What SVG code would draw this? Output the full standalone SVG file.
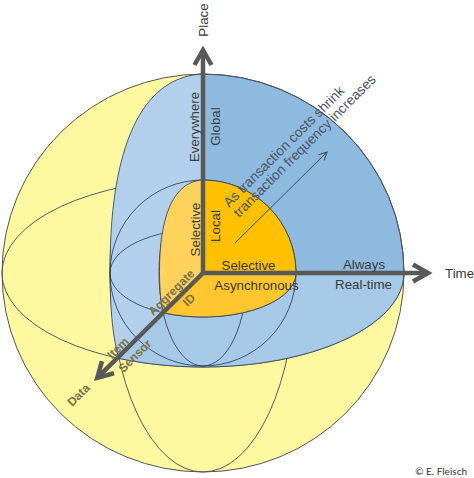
<svg xmlns="http://www.w3.org/2000/svg" width="474" height="478" viewBox="0 0 474 478">
<defs>
<style>
.wire{fill:none;stroke:#26344f;stroke-width:0.8}
.face{stroke:#2b3a55;stroke-width:0.8}
.axis{fill:none;stroke:#595959;stroke-width:4.5;marker-end:url(#chev)}
.lbl{font-family:"Liberation Sans",Arial,sans-serif;font-size:13.3px;fill:#3a3a3a}
.dlbl{font-family:"Liberation Sans",Arial,sans-serif;font-size:12px;font-weight:bold;fill:#78724c}
.diag{font-family:"Liberation Sans",Arial,sans-serif;font-size:13.8px;fill:#4b5663}
</style>
<marker id="chev" markerUnits="userSpaceOnUse" viewBox="-20 -12 24 24" markerWidth="24" markerHeight="24" refX="0" refY="0" orient="auto" overflow="visible">
<path d="M-15,-8.5 L0,0 L-15,8.5" fill="none" stroke="#595959" stroke-width="4.5"/>
</marker>
<marker id="thin" markerUnits="userSpaceOnUse" viewBox="-10 -6 12 12" markerWidth="12" markerHeight="12" refX="0" refY="0" orient="auto" overflow="visible">
<path d="M-8,-4 L0,0 L-8,4" fill="none" stroke="#3d4a5c" stroke-width="1"/>
</marker>
</defs>
<rect width="474" height="478" fill="#ffffff"/>
<g id="sphere" transform="translate(203,273)">
<ellipse rx="201" ry="199" fill="#fef9a1"/>
<ellipse class="wire" rx="201" ry="94"/>
<ellipse class="wire" rx="93" ry="199"/>
</g>
<g id="outer-faces" transform="translate(203,273)">
<path class="face" fill="#8ebae0" d="M0,0 L0,-199 A201,199 0 0 1 201,0 Z"/>
<path class="face" fill="#b2d0ec" d="M0,0 L0,-199 C-53,-197 -93,-143 -93,-3 C-93,37 -90,67 -84,85.4 Z"/>
<path class="face" fill="#a6c9e8" d="M0,0 L201,0 A201,94 0 0 1 -84,85.4 Z"/>
</g>
<g id="inner-wire" transform="translate(203,273)">
<circle class="wire" r="93"/>
<ellipse class="wire" rx="93" ry="44"/>
<ellipse class="wire" rx="44" ry="93"/>
</g>
<g id="inner-faces" transform="translate(203,273)">
<path class="face" fill="#ffc000" d="M0,0 L0,-93 A93,93 0 0 1 93,0 Z"/>
<path class="face" fill="#ffd25c" d="M0,0 L0,-93 C-24.8,-92 -43.5,-66 -43.5,-1.5 C-43.5,17 -42,31 -39.8,39.8 Z"/>
<path class="face" fill="#ffc62e" d="M0,0 L93,0 A93,44 0 0 1 -39.8,39.8 Z"/>
</g>
<ellipse id="outline" cx="203" cy="273" rx="201" ry="199" fill="none" stroke="#555555" stroke-width="1"/>
<g id="connectors">
<line class="axis" x1="203" y1="273" x2="203" y2="50"/>
<line class="axis" x1="203" y1="273" x2="428" y2="273"/>
<line class="axis" x1="203" y1="273" x2="97.3" y2="377.8"/>
<line x1="235" y1="243" x2="327" y2="152" stroke="#3d4a5c" stroke-width="1" marker-end="url(#thin)"/>
</g>
<g id="labels">
<text class="lbl" transform="translate(208,20) rotate(-90)" text-anchor="middle">Place</text>
<text class="lbl" x="445" y="278">Time</text>
<text class="lbl" transform="translate(198.5,127) rotate(-90)" text-anchor="middle">Everywhere</text>
<text class="lbl" transform="translate(220,126.5) rotate(-90)" text-anchor="middle">Global</text>
<text class="lbl" transform="translate(199.5,229.5) rotate(-90)" text-anchor="middle">Selective</text>
<text class="lbl" transform="translate(220,226) rotate(-90)" text-anchor="middle">Local</text>
<text class="lbl" x="248.5" y="270" text-anchor="middle">Selective</text>
<text class="lbl" x="256.5" y="289.5" text-anchor="middle">Asynchronous</text>
<text class="lbl" x="364" y="269" text-anchor="middle">Always</text>
<text class="lbl" x="363.5" y="289" text-anchor="middle">Real-time</text>
<text class="dlbl" transform="translate(174.3,295.3) rotate(-45)" text-anchor="middle">Aggregate</text>
<text class="dlbl" transform="translate(191.8,302.8) rotate(-45)" text-anchor="middle">ID</text>
<text class="dlbl" transform="translate(120.8,350.8) rotate(-45)" text-anchor="middle">Item</text>
<text class="dlbl" transform="translate(137.8,358.8) rotate(-45)" text-anchor="middle">Sensor</text>
<text class="dlbl" transform="translate(81.4,397.9) rotate(-45)" text-anchor="middle">Data</text>
<text class="diag" transform="translate(229,208) rotate(-45)">As transaction costs shrink</text>
<text class="diag" transform="translate(239,218) rotate(-45)">transaction frequency increases</text>
<text x="467" y="475" text-anchor="end" font-family="Lato, 'Open Sans', sans-serif" font-size="10" fill="#333333">© E. Fleisch</text>
</g>
</svg>
